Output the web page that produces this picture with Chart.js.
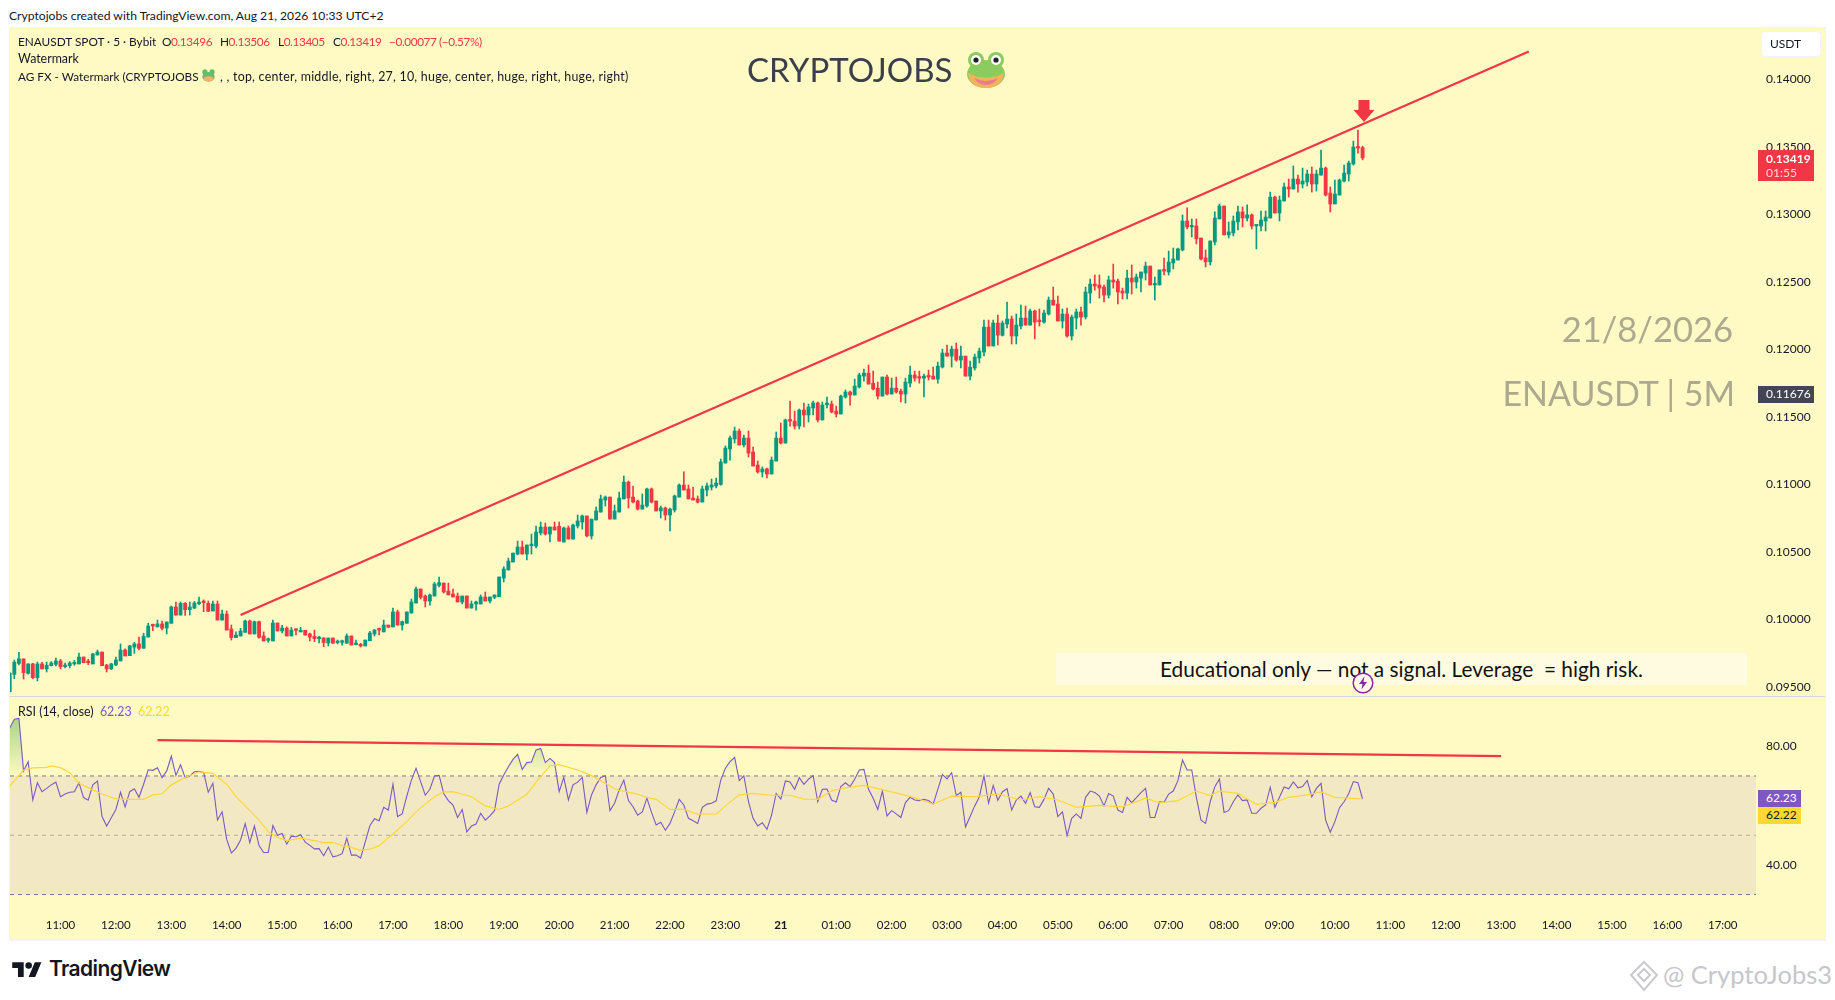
<!DOCTYPE html>
<html><head><meta charset="utf-8">
<script src="https://cdn.jsdelivr.net/npm/chart.js@4"></script>
<style>
html,body{margin:0;padding:0;background:#fff;width:1835px;height:1000px;overflow:hidden}
body{font-family:Lato,sans-serif;color:#131722;position:relative}
.t{position:absolute;white-space:pre;line-height:1}
.l{font-size:11.8px;letter-spacing:-.4px;top:36px}
.r{color:#F23645}
canvas{position:absolute;display:block}
svg{position:absolute}
#frame{position:absolute;left:10px;top:28px;width:1815px;height:912px;background:#FFF9C4;box-shadow:0 0 0 1px #F0F3FA}
#sep{position:absolute;left:10px;top:696px;width:1815px;height:1px;background:#D6D6E0}
</style></head><body>
<div id="frame"></div>
<canvas id="price" width="1815" height="669" style="left:10px;top:28px"></canvas>
<canvas id="rsi" width="1815" height="243" style="left:10px;top:697px"></canvas>
<div id="sep"></div>

<div class="t" style="left:9px;top:10px;font-size:12.15px">Cryptojobs created with TradingView.com, Aug 21, 2026 10:33 UTC+2</div>
<div class="t" style="left:18px;top:36px;font-size:11.8px">ENAUSDT SPOT · 5 · Bybit</div>
<div class="t l" style="left:162px">O<span class="r">0.13496</span></div>
<div class="t l" style="left:220px">H<span class="r">0.13506</span></div>
<div class="t l" style="left:278px">L<span class="r">0.13405</span></div>
<div class="t l" style="left:333px">C<span class="r">0.13419</span></div>
<div class="t l r" style="left:389px">−0.00077 (−0.57%)</div>
<div class="t" style="left:18px;top:53px;font-size:12.4px">Watermark</div>
<div class="t" style="left:18px;top:71px;font-size:11.75px">AG FX - Watermark (CRYPTOJOBS</div>
<svg style="left:202px;top:69px" width="13" height="13" viewBox="0 0 40 40"><ellipse cx="20" cy="24" rx="19" ry="15" fill="#5FBF6A"/><circle cx="9" cy="9" r="8" fill="#5FBF6A"/><circle cx="31" cy="9" r="8" fill="#5FBF6A"/><ellipse cx="20" cy="30" rx="15" ry="8" fill="#F6B26B"/></svg>
<div class="t" style="left:220px;top:71px;font-size:12.4px;letter-spacing:.25px">, , top, center, middle, right, 27, 10, huge, center, huge, right, huge, right)</div>

<div class="t" id="wm" style="left:747px;top:53px;font-size:33px;color:#3A3F4B">CRYPTOJOBS</div>
<svg style="left:966px;top:51px" width="40" height="38" viewBox="0 0 40 38"><ellipse cx="20" cy="23" rx="19" ry="14" fill="#8CCB5E"/><circle cx="10" cy="9" r="8" fill="#8CCB5E"/><circle cx="30" cy="9" r="8" fill="#8CCB5E"/><circle cx="10" cy="9" r="5" fill="#fff"/><circle cx="30" cy="9" r="5" fill="#fff"/><circle cx="10" cy="9" r="2.6" fill="#222"/><circle cx="30" cy="9" r="2.6" fill="#222"/><path d="M2 22 Q20 31 38 22 Q36 37 20 37 Q4 37 2 22Z" fill="#F0B45A"/><path d="M8 27 Q20 33 32 27 Q28 34 20 34 Q12 34 8 27Z" fill="#EC7C8B"/></svg>

<div class="t" style="right:102px;top:312px;font-size:34.5px;color:#ADA98F">21/8/2026</div>
<div class="t" style="right:100px;top:376px;font-size:34px;color:#ADA98F">ENAUSDT | 5M</div>

<div style="position:absolute;left:1056px;top:653px;width:691px;height:32px;background:#FFFBE0"></div>
<div class="t" style="left:1160px;top:659px;font-size:20.85px;color:#111">Educational only — not a signal. Leverage  = high risk.</div>
<svg style="left:1352px;top:672px" width="22" height="22" viewBox="0 0 22 22"><circle cx="11" cy="11" r="9.8" fill="#FFFDE8" stroke="#8E24AA" stroke-width="1.5"/><path d="M12.5 4.5 L7 12 H10.5 L9.5 17.5 L15 10 H11.5Z" fill="#8E24AA"/></svg>

<div style="position:absolute;left:1761px;top:31px;width:60px;height:26px;background:#fff;border:1px solid #F0F3FA;border-radius:4px;box-sizing:border-box"></div>
<div class="t" style="left:1770px;top:38px;font-size:12px">USDT</div>

<div style="position:absolute;left:1758px;top:150px;width:56px;height:31px;background:#F23645"></div>
<div class="t" style="left:1766px;top:153px;font-size:12px;font-weight:700;color:#fff">0.13419</div>
<div class="t" style="left:1766px;top:167px;font-size:12px;color:#FFD6D9">01:55</div>
<div style="position:absolute;left:1758px;top:386px;width:56px;height:17px;background:#434651"></div>
<div class="t" style="left:1766px;top:388px;font-size:12px;color:#fff">0.11676</div>
<div style="position:absolute;left:1758px;top:790px;width:43px;height:17px;background:#7E57C2"></div>
<div class="t" style="left:1766px;top:792px;font-size:12px;color:#fff">62.23</div>
<div style="position:absolute;left:1758px;top:807px;width:43px;height:17px;background:#FDD835"></div>
<div class="t" style="left:1766px;top:809px;font-size:12px;color:#131722">62.22</div>

<div class="t" style="left:18px;top:706px;font-size:12.4px">RSI (14, close)  <span style="color:#7E57C2">62.23</span>  <span style="color:#FDD835">62.22</span></div>

<svg style="left:12px;top:959px" width="30" height="23" viewBox="0 0 36 28"><path fill="#131722" d="M14 22H7V11H0V4h14v18zM28 22h-8l7.5-18h8L28 22z"/><circle fill="#131722" cx="20" cy="8" r="4"/></svg>
<div class="t" style="left:49px;top:958px;font-family:Inter,sans-serif;font-weight:600;font-size:21px;letter-spacing:-.6px;color:#131722">TradingView</div>

<svg style="left:1629px;top:960px" width="30" height="32" viewBox="0 0 30 32"><g fill="none" stroke="#C9C9CF" stroke-width="2"><path d="M15 2 L28 15 L15 30 L2 15Z"/><path d="M15 9 L21 15 L15 21 L9 15Z"/></g></svg>
<div class="t" style="left:1663px;top:962px;font-size:25.5px;color:#C6C6CC">@ CryptoJobs3</div>

<script>
const opens=[.09466,.09594,.09675,.09708,.09601,.09671,.09569,.09671,.09634,.09658,
.09668,.09693,.09651,.09658,.09671,.09671,.09722,.09688,.09671,.09737,
.09759,.09663,.09634,.09663,.09693,.09774,.09732,.09796,.09819,.09787,
.09870,.09957,.09945,.09967,.09937,.09972,.10093,.10033,.10120,.10073,
.10085,.10117,.10127,.10120,.10063,.10115,.09996,.10041,.09930,.09866,
.09878,.09905,.09989,.09893,.09984,.09878,.09846,.09841,.09974,.09915,
.09937,.09878,.09925,.09908,.09920,.09893,.09875,.09858,.09863,.09826,
.09863,.09829,.09831,.09824,.09878,.09814,.09816,.09804,.09843,.09893,
.09927,.09908,.09959,.09945,.10056,.09959,.09972,.10048,.10122,.10226,
.10174,.10137,.10174,.10253,.10270,.10211,.10189,.10174,.10130,.10174,
.10085,.10115,.10115,.10167,.10137,.10164,.10169,.10307,.10367,.10426,
.10485,.10537,.10485,.10547,.10544,.10641,.10685,.10633,.10685,.10690,
.10574,.10678,.10596,.10693,.10722,.10767,.10619,.10737,.10796,.10885,
.10907,.10744,.10796,.10893,.11018,.10907,.10878,.10818,.10841,.10967,
.10878,.10804,.10826,.10774,.10811,.10907,.10996,.10967,.10900,.10893,
.10870,.10959,.10981,.10989,.11001,.11159,.11263,.11337,.11396,.11293,
.11344,.11241,.11144,.11093,.11115,.11078,.11174,.11344,.11307,.11478,
.11470,.11433,.11552,.11515,.11567,.11604,.11478,.11591,.11596,.11544,
.11522,.11648,.11685,.11663,.11722,.11803,.11825,.11751,.11714,.11655,
.11796,.11670,.11714,.11692,.11670,.11751,.11811,.11796,.11788,.11803,
.11803,.11781,.11870,.11974,.11951,.12003,.11922,.11951,.11803,.11863,
.11937,.11981,.12166,.12026,.12196,.12105,.12189,.12226,.12100,.12174,
.12233,.12181,.12285,.12211,.12203,.12263,.12366,.12337,.12211,.12263,
.12100,.12233,.12278,.12241,.12418,.12485,.12478,.12463,.12403,.12515,
.12507,.12433,.12418,.12529,.12500,.12529,.12566,.12618,.12478,.12478,
.12589,.12574,.12641,.12663,.12737,.12952,.12908,.12915,.12826,.12678,
.12649,.12797,.12967,.13063,.12849,.12863,.12945,.13019,.12974,.12997,
.12915,.12915,.12952,.12974,.13129,.13011,.13100,.13204,.13189,.13263,
.13226,.13241,.13300,.13226,.13292,.13344,.13159,.13078,.13144,.13248,
.13300,.13374,.13500,.13496];
const highs=[.09609,.09700,.09757,.09708,.09671,.09676,.09685,.09683,.09685,.09688,
.09715,.09705,.09678,.09688,.09698,.09752,.09722,.09705,.09750,.09774,
.09759,.09668,.09676,.09722,.09819,.09782,.09809,.09831,.09870,.09898,
.09972,.09967,.09996,.09989,.09982,.10100,.10130,.10130,.10125,.10130,
.10135,.10167,.10145,.10137,.10137,.10137,.10070,.10063,.09959,.09908,
.09935,.09996,.09996,.09989,.09989,.09908,.09863,.09996,.09974,.09957,
.09945,.09942,.09930,.09942,.09920,.09900,.09922,.09875,.09866,.09863,
.09863,.09848,.09848,.09893,.09878,.09848,.09824,.09848,.09912,.09927,
.09937,.09996,.09959,.10085,.10070,.09989,.10056,.10152,.10241,.10226,
.10182,.10189,.10275,.10315,.10270,.10270,.10226,.10196,.10174,.10174,
.10137,.10137,.10182,.10204,.10167,.10182,.10315,.10391,.10455,.10492,
.10581,.10581,.10552,.10633,.10692,.10722,.10715,.10685,.10722,.10722,
.10685,.10693,.10707,.10774,.10774,.10767,.10744,.10833,.10922,.10915,
.10907,.10848,.10944,.11063,.11026,.10989,.10885,.10930,.10974,.10974,
.10878,.10841,.10833,.10826,.10922,.11004,.11093,.10996,.10981,.10915,
.10989,.11011,.11041,.11048,.11189,.11285,.11359,.11426,.11411,.11367,
.11396,.11278,.11174,.11130,.11122,.11204,.11389,.11455,.11485,.11618,
.11544,.11559,.11604,.11596,.11618,.11611,.11611,.11648,.11618,.11581,
.11663,.11700,.11692,.11781,.11825,.11855,.11885,.11840,.11759,.11796,
.11811,.11788,.11796,.11707,.11788,.11877,.11840,.11840,.11818,.11848,
.11870,.11907,.12003,.12033,.12025,.12048,.12025,.11951,.11915,.11966,
.12011,.12218,.12218,.12218,.12255,.12211,.12352,.12248,.12263,.12329,
.12322,.12300,.12292,.12300,.12292,.12389,.12463,.12396,.12300,.12307,
.12255,.12300,.12315,.12463,.12522,.12552,.12552,.12478,.12544,.12633,
.12522,.12455,.12589,.12626,.12559,.12574,.12648,.12618,.12537,.12589,
.12677,.12729,.12752,.12752,.12997,.13049,.12967,.12967,.12826,.12737,
.12804,.13019,.13078,.13063,.12945,.12989,.13063,.13056,.13071,.13004,
.12923,.13026,.13026,.13166,.13137,.13137,.13233,.13263,.13359,.13292,
.13344,.13329,.13352,.13329,.13478,.13352,.13204,.13255,.13263,.13366,
.13396,.13544,.13626,.13506];
const lows=[.09461,.09562,.09663,.09559,.09596,.09562,.09545,.09634,.09611,.09656,
.09656,.09634,.09641,.09641,.09661,.09671,.09680,.09666,.09671,.09737,
.09658,.09611,.09629,.09658,.09693,.09730,.09732,.09749,.09774,.09787,
.09870,.09917,.09945,.09922,.09893,.09972,.10033,.10033,.10031,.10033,
.10080,.10110,.10058,.10058,.10063,.09996,.09996,.09922,.09848,.09866,
.09878,.09905,.09893,.09893,.09861,.09841,.09831,.09841,.09915,.09900,
.09878,.09878,.09885,.09908,.09885,.09841,.09836,.09826,.09799,.09804,
.09824,.09819,.09809,.09824,.09811,.09811,.09796,.09804,.09843,.09878,
.09885,.09908,.09942,.09945,.09959,.09922,.09972,.10048,.10122,.10152,
.10093,.10107,.10174,.10241,.10196,.10182,.10167,.10130,.10115,.10085,
.10085,.10070,.10115,.10137,.10122,.10154,.10169,.10278,.10367,.10426,
.10478,.10485,.10441,.10485,.10530,.10626,.10626,.10574,.10663,.10581,
.10574,.10596,.10596,.10678,.10670,.10611,.10596,.10737,.10796,.10841,
.10744,.10744,.10796,.10893,.10826,.10863,.10811,.10818,.10833,.10863,
.10804,.10752,.10737,.10656,.10796,.10907,.10959,.10893,.10885,.10863,
.10870,.10915,.10959,.10974,.10994,.11159,.11181,.11307,.11293,.11278,
.11204,.11137,.11085,.11056,.11048,.11078,.11174,.11300,.11307,.11433,
.11411,.11411,.11426,.11463,.11515,.11463,.11478,.11567,.11530,.11500,
.11522,.11640,.11588,.11663,.11714,.11766,.11744,.11700,.11633,.11655,
.11663,.11670,.11677,.11611,.11603,.11722,.11766,.11751,.11648,.11774,
.11781,.11751,.11863,.11951,.11870,.11914,.11863,.11803,.11774,.11848,
.11900,.11952,.12026,.12026,.12033,.12100,.12159,.12041,.12041,.12152,
.12181,.12181,.12078,.12174,.12196,.12255,.12329,.12211,.12159,.12092,
.12070,.12152,.12181,.12226,.12344,.12440,.12381,.12352,.12381,.12455,
.12337,.12374,.12374,.12411,.12455,.12426,.12515,.12478,.12366,.12478,
.12552,.12552,.12597,.12663,.12730,.12893,.12834,.12782,.12663,.12612,
.12626,.12774,.12967,.12849,.12826,.12841,.12886,.12908,.12952,.12893,
.12745,.12878,.12878,.12974,.13011,.12952,.13100,.13129,.13189,.13166,
.13196,.13211,.13166,.13174,.13292,.13137,.13018,.13078,.13144,.13241,
.13248,.13366,.13455,.13405];
const closes=[.09601,.09685,.09708,.09606,.09671,.09569,.09671,.09634,.09661,.09678,
.09693,.09651,.09663,.09678,.09678,.09722,.09680,.09680,.09745,.09759,
.09658,.09634,.09671,.09700,.09774,.09730,.09804,.09819,.09787,.09875,
.09952,.09952,.09967,.09935,.09982,.10093,.10033,.10120,.10073,.10093,
.10122,.10120,.10125,.10061,.10115,.09996,.10041,.09922,.09866,.09885,
.09915,.09989,.09893,.09984,.09868,.09841,.09851,.09974,.09915,.09937,
.09878,.09922,.09920,.09920,.09885,.09870,.09858,.09863,.09829,.09863,
.09824,.09833,.09833,.09878,.09811,.09816,.09804,.09848,.09900,.09922,
.09922,.09959,.09942,.10056,.09959,.09984,.10056,.10130,.10226,.10164,
.10137,.10182,.10263,.10273,.10204,.10182,.10167,.10130,.10174,.10085,
.10115,.10130,.10167,.10137,.10167,.10182,.10315,.10374,.10433,.10492,
.10537,.10485,.10552,.10552,.10648,.10685,.10633,.10685,.10663,.10581,
.10678,.10596,.10700,.10730,.10767,.10619,.10744,.10804,.10893,.10907,
.10744,.10804,.10900,.11018,.10900,.10870,.10818,.10848,.10967,.10870,
.10804,.10826,.10774,.10818,.10915,.10996,.10959,.10893,.10885,.10870,
.10967,.10989,.10996,.11011,.11167,.11270,.11344,.11396,.11293,.11344,
.11233,.11137,.11093,.11115,.11078,.11181,.11344,.11307,.11478,.11470,
.11433,.11552,.11515,.11574,.11604,.11478,.11589,.11596,.11537,.11522,
.11655,.11685,.11663,.11729,.11811,.11825,.11744,.11707,.11655,.11796,
.11670,.11714,.11685,.11670,.11759,.11811,.11788,.11788,.11803,.11796,
.11781,.11877,.11974,.11951,.12003,.11922,.11951,.11803,.11870,.11944,
.11989,.12166,.12026,.12196,.12107,.12196,.12226,.12100,.12181,.12233,
.12181,.12285,.12203,.12206,.12270,.12366,.12329,.12211,.12263,.12100,
.12241,.12278,.12241,.12426,.12485,.12470,.12455,.12403,.12515,.12500,
.12426,.12418,.12529,.12500,.12537,.12574,.12618,.12478,.12485,.12589,
.12581,.12648,.12671,.12745,.12952,.12908,.12915,.12819,.12671,.12649,
.12804,.12974,.13063,.12849,.12871,.12952,.13019,.12974,.12997,.12915,
.12923,.12959,.12981,.13129,.13011,.13107,.13204,.13189,.13263,.13226,
.13248,.13300,.13226,.13300,.13344,.13144,.13078,.13152,.13255,.13307,
.13381,.13500,.13492,.13419];
const rsiValues=[86.1,89.1,89.4,71.7,74.8,61.9,67.7,64.7,65.8,67.0,
67.9,63.0,63.9,64.5,64.7,67.7,62.7,61.8,67.0,68.3,
56.3,53.1,55.9,58.7,64.5,59.6,64.7,65.7,62.8,67.2,
72.1,71.9,72.8,69.4,71.7,76.7,70.2,73.8,69.4,70.0,
71.4,71.6,71.2,64.5,67.5,55.1,57.9,48.6,44.0,45.6,
48.4,53.9,47.5,53.1,46.5,44.2,44.2,53.3,50.0,50.6,
47.0,49.7,49.5,50.2,47.7,46.6,45.4,45.5,43.1,46.0,
42.7,43.1,43.8,49.0,43.3,43.3,42.3,47.8,53.2,55.6,
54.9,59.4,58.5,67.2,56.3,57.2,63.2,68.6,72.6,68.1,
63.5,65.5,70.0,70.2,64.1,61.7,60.2,56.0,58.7,51.1,
53.1,53.8,57.4,55.1,56.5,58.3,67.2,70.3,73.1,75.6,
77.3,72.2,74.5,74.7,78.8,79.3,74.5,75.9,74.5,64.7,
69.5,61.9,67.0,67.9,69.5,57.7,63.6,67.0,69.5,70.1,
58.3,60.8,65.3,68.6,61.7,59.6,56.8,57.9,62.5,57.7,
53.5,54.4,51.7,54.0,57.9,62.1,60.2,55.7,54.9,54.0,
59.4,60.5,60.8,61.6,68.6,72.6,74.8,76.3,68.4,70.0,
61.3,55.7,53.1,54.2,52.0,56.8,64.1,62.2,68.3,68.0,
65.5,69.4,67.2,68.9,70.1,61.3,65.5,65.6,61.9,61.2,
66.4,67.7,66.4,68.9,72.0,72.2,65.5,62.5,58.7,64.9,
56.5,58.3,57.2,56.0,61.0,62.8,61.9,61.7,62.1,61.7,
60.5,65.5,70.5,69.0,71.1,63.4,64.5,52.8,56.3,59.9,
63.0,70.0,60.8,66.8,61.8,64.7,65.7,58.5,61.9,63.2,
60.8,64.4,59.6,59.4,62.1,65.8,63.9,56.3,57.9,49.9,
55.7,57.2,55.7,62.8,64.9,64.4,63.2,59.9,64.1,63.2,
58.5,57.7,62.8,61.0,62.7,64.4,65.8,56.0,56.0,61.3,
61.1,63.9,64.9,68.4,75.4,72.0,72.0,62.8,55.1,54.0,
61.3,66.4,69.0,57.7,58.3,61.3,63.6,61.7,61.9,57.4,
57.4,59.1,60.2,66.2,59.4,62.8,66.3,65.7,68.0,66.0,
66.4,68.5,63.0,65.8,67.5,55.1,51.0,54.6,59.3,61.3,
64.1,68.1,67.7,62.23];
const rsiMaBars=[0,3,5,8,9,11,13,15,18,20,23,26,29,31,33,35,38,41,44,47,49,52,54,56,58,60,63,66,68,70,72,74,76,78,80,83,86,88,90,92,94,96,98,100,103,106,108,112,114,117,119,123,126,129,132,133,136,138,140,143,146,149,153,155,158,161,165,169,172,175,178,181,185,188,193,196,200,204,209,214,219,223,227,231,236,241,246,249,253,257,260,262,266,270,274,277,281,284,287,293];
const rsiMaValues=[66.6,72.0,72.7,72.9,73.4,72.8,71.1,67.5,65.3,63.9,62.3,62.1,62.1,63.6,64.0,67.0,69.5,71.4,70.9,67.2,63.0,58.3,55.1,51.2,49.3,48.2,49.0,48.2,47.5,47.6,46.5,45.9,44.9,45.3,46.5,50.4,54.6,57.9,60.5,63.0,64.6,64.7,63.9,63.0,59.9,58.7,59.9,63.8,67.9,73.4,73.8,72.0,70.1,67.5,65.0,64.9,63.9,62.8,62.1,58.7,58.7,57.1,57.2,59.9,63.6,64.1,63.5,63.5,62.2,62.1,65.0,66.0,66.8,65.7,63.9,62.6,60.5,63.2,63.0,63.9,61.9,63.0,61.9,59.4,60.1,59.6,62.5,60.9,61.7,64.9,63.4,64.9,64.1,60.4,61.1,62.8,63.6,64.6,62.8,62.22];
const priceTrendBars=[50,329];
const priceTrendValues=[.10034,.14207];
const rsiTrendBars=[32,323];
const rsiTrendValues=[82.1,76.7];
const arrowBar=293.3, arrowPrice=.13685;
const priceTicks=[.14,.135,.13,.125,.12,.115,.11,.105,.10,.095];
const rsiTicks=[80,40];
const rsiBands=[70,50,30];
const timeLabels=['11:00','12:00','13:00','14:00','15:00','16:00','17:00','18:00','19:00','20:00','21:00','22:00','23:00','21','01:00','02:00','03:00','04:00','05:00','06:00','07:00','08:00','09:00','10:00','11:00','12:00','13:00','14:00','15:00','16:00','17:00'];
const timeTickBars=[11,23,35,47,59,71,83,95,107,119,131,143,155,167,179,191,203,215,227,239,251,263,275,287,299,311,323,335,347,359,371];
const xRange=[0.065,378.2];
const priceRange=[.09426,.143815];
const rsiRange=[26.14,96.63];

const UP='#089981',DOWN='#F23645',FONT='Lato, sans-serif',INK='#131722';
Chart.defaults.font.family=FONT;
Chart.defaults.font.size=12;
Chart.defaults.color=INK;
const barIdx=opens.map((_,i)=>i);
const candleCol=barIdx.map(i=>closes[i]>=opens[i]?UP:DOWN);
const xBase={type:'linear',min:xRange[0],max:xRange[1],offset:false,
  grid:{display:false,drawTicks:false},border:{display:false}};
const fixY=s=>{s.width=69;s.paddingTop=0;s.paddingBottom=0};
const arrow={id:'arrow',afterDatasetsDraw(c){
  const x=c.scales.x.getPixelForValue(arrowBar),y=c.scales.y.getPixelForValue(arrowPrice),g=c.ctx;
  g.save();g.fillStyle=DOWN;g.beginPath();
  g.moveTo(x,y);g.lineTo(x-10.5,y-12);g.lineTo(x-5.5,y-12);g.lineTo(x-5.5,y-22);
  g.lineTo(x+5.5,y-22);g.lineTo(x+5.5,y-12);g.lineTo(x+10.5,y-12);g.closePath();g.fill();g.restore();
}};
new Chart(document.getElementById('price'),{
  type:'bar',
  data:{datasets:[
    {type:'line',data:priceTrendBars.map((x,i)=>({x,y:priceTrendValues[i]})),borderColor:DOWN,borderWidth:2.2,pointRadius:0,order:0},
    {label:'body',data:barIdx.map(i=>({x:i,y:[opens[i],closes[i]]})),backgroundColor:candleCol,barThickness:3.2,grouped:false,minBarLength:1.6,order:1},
    {label:'wick',data:barIdx.map(i=>({x:i,y:[lows[i],highs[i]]})),backgroundColor:candleCol,barThickness:1,grouped:false,order:2}
  ]},
  options:{responsive:false,animation:false,devicePixelRatio:1,events:[],
    layout:{padding:0},
    plugins:{legend:{display:false},tooltip:{enabled:false}},
    scales:{
      x:{...xBase,display:false},
      y:{type:'linear',position:'right',min:priceRange[0],max:priceRange[1],
        grid:{display:false,drawTicks:false},border:{display:false},afterFit:fixY,
        afterBuildTicks:s=>{s.ticks=priceTicks.map(value=>({value}))},
        ticks:{autoSkip:false,padding:10,crossAlign:'near',callback:v=>v.toFixed(5)}}
    }},
  plugins:[arrow]
});
const rsiCanvas=document.getElementById('rsi');
const g=rsiCanvas.getContext('2d');
const grad=g.createLinearGradient(0,-10,0,79);
grad.addColorStop(0,'rgba(76,175,80,0.75)');
grad.addColorStop(1,'rgba(76,175,80,0)');
const bandLine=(v,col)=>({data:[{x:xRange[0],y:v},{x:xRange[1],y:v}],borderColor:col,borderWidth:1,borderDash:[4,4],pointRadius:0,fill:false});
new Chart(rsiCanvas,{
  type:'line',
  data:{datasets:[
    {data:rsiTrendBars.map((x,i)=>({x,y:rsiTrendValues[i]})),borderColor:DOWN,borderWidth:2.2,pointRadius:0,fill:false,order:0},
    {data:rsiMaBars.map((x,i)=>({x,y:rsiMaValues[i]})),borderColor:'#FDD835',borderWidth:1.2,pointRadius:0,fill:false,order:1},
    {data:barIdx.map(i=>({x:i,y:rsiValues[i]})),borderColor:'#7E57C2',borderWidth:1.1,pointRadius:0,
      fill:{target:{value:rsiBands[0]},above:grad,below:'rgba(0,0,0,0)'},order:2},
    Object.assign(bandLine(rsiBands[1],'#B5AE9E'),{order:3}),
    Object.assign(bandLine(rsiBands[0],'#787B86'),{order:5,fill:'+1',backgroundColor:'rgba(126,87,194,0.1)'}),
    Object.assign(bandLine(rsiBands[2],'#787B86'),{order:4})
  ]},
  options:{responsive:false,animation:false,devicePixelRatio:1,events:[],
    layout:{padding:0},
    plugins:{legend:{display:false},tooltip:{enabled:false},filler:{propagate:false}},
    scales:{
      x:{...xBase,afterFit:s=>{s.height=34;s.paddingLeft=0;s.paddingRight=0},
        afterBuildTicks:s=>{s.ticks=timeTickBars.map(value=>({value}))},
        ticks:{autoSkip:false,maxRotation:0,padding:12,
          callback:(v,i)=>timeLabels[i],
          font:c=>({family:FONT,size:11.5,weight:c.index===13?'700':'400'})}},
      y:{type:'linear',position:'right',min:rsiRange[0],max:rsiRange[1],
        grid:{display:false,drawTicks:false},border:{display:false},afterFit:fixY,
        afterBuildTicks:s=>{s.ticks=rsiTicks.map(value=>({value}))},
        ticks:{autoSkip:false,padding:10,crossAlign:'near',callback:v=>v.toFixed(2)}}
    }}
});
</script>
</body></html>
